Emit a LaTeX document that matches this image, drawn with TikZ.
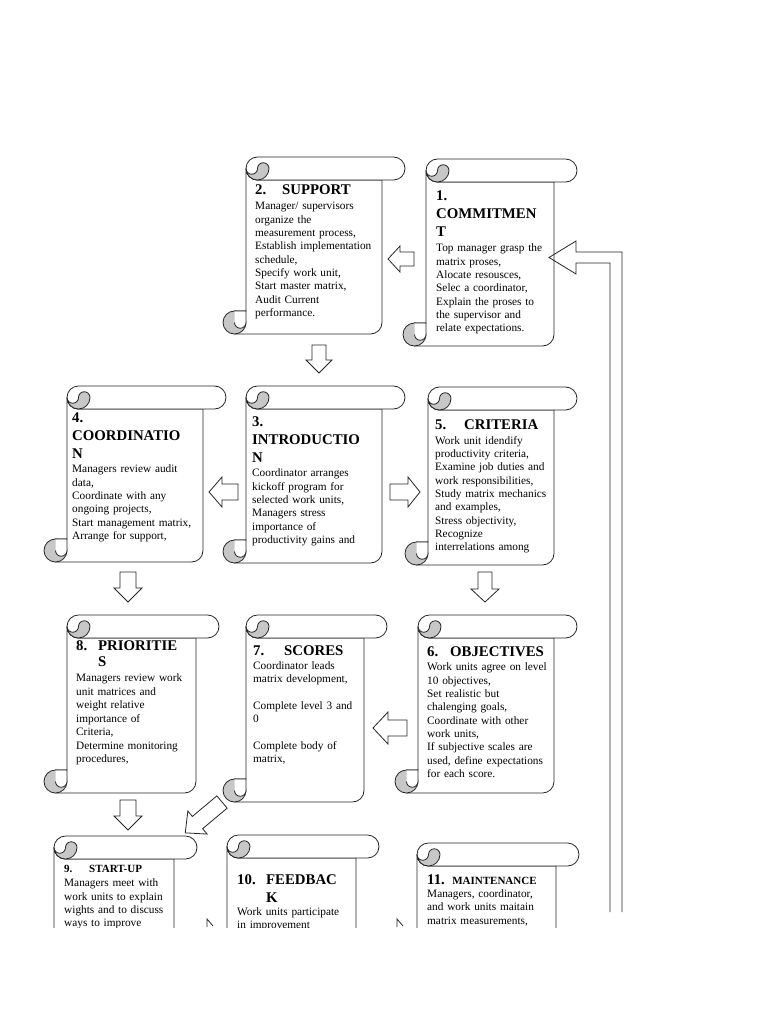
\documentclass[tikz,border=0pt]{standalone}
\usepackage{fontspec}
\setmainfont{Liberation Serif}
\def\sc{23}\def\sh{11.5}\def\sq{5.75}
\tikzset{
  ln/.style={draw=black!85, line width=0.8pt},
  curlfill/.style={ln, fill=black!22},
  pics/scroll/.style 2 args={code={
    % body
    \filldraw[ln, fill=white] (\sc,-\sh) -- (\sc,{-#2+\sc}) -- (\sh,{-#2+\sc}) -- (\sh,-#2)
      -- ({#1-\sc-\sh},-#2) arc[start angle=-90,end angle=0,radius=\sh]
      -- ({#1-\sc},-\sc) -- ({\sc+\sh},-\sc) arc[start angle=270,end angle=180,radius=\sh] -- cycle;
    % bottom curl
    \filldraw[curlfill] (\sh,{-#2+\sh}) circle[radius=\sh];
    \fill[white] (\sh,{-#2+\sc}) -- (\sc,{-#2+\sc}) -- (\sc,{-#2+\sh})
      arc[start angle=0,end angle=-180,radius=\sq] -- cycle;
    \draw[ln] (\sh,{-#2+\sc}) -- (\sc,{-#2+\sc}) -- (\sc,{-#2+\sh})
      arc[start angle=0,end angle=-180,radius=\sq];
    % top roll
    \filldraw[ln, fill=white] ({\sc+\sh},0) -- ({#1-\sh},0) arc[start angle=90,end angle=-90,radius=\sh]
      -- ({\sc+\sh},-\sc) arc[start angle=270,end angle=90,radius=\sh] -- cycle;
    % top curl
    \filldraw[curlfill] (\sc,-\sh) arc[start angle=180,end angle=360,radius=\sh]
      arc[start angle=0,end angle=180,radius=\sq] arc[start angle=0,end angle=-180,radius=\sq] -- cycle;
  }},
  body/.style={anchor=north west, inner sep=0pt, text width=175pt, align=left,
    font=\fontsize{11.3}{13.33}\selectfont},
  head/.style={anchor=north west, inner sep=0pt, text width=175pt, align=left,
    font=\fontsize{14.8}{18}\selectfont\bfseries},
  shead/.style={anchor=north west, inner sep=0pt, text width=175pt, align=left,
    font=\fontsize{11}{13}\selectfont\bfseries},
}
\newcommand\tb[5]{\node[#1] (#2) at (#3,{16-#4}) {\rule{0pt}{16pt}#5};}
\newcommand\blockarrow[7]{%
  \begin{scope}[shift={(#1,-#2)},rotate=#3]
    \filldraw[ln, fill=white] (0,#5) -- ({#4-#7},#5) -- ({#4-#7},#6) -- (#4,0)
      -- ({#4-#7},-#6) -- ({#4-#7},-#5) -- (0,-#5) -- cycle;
  \end{scope}}
\begin{document}
\begin{tikzpicture}[x=1pt,y=1pt]
\fill[white] (0,0) rectangle (768,-1024);
\useasboundingbox (0,0) rectangle (768,-1024);

% scrolls
\pic (s1) at (403,-159) {scroll={174}{187}};
\pic (s2) at (223,-157) {scroll={182}{177}};
\pic (s3) at (223,-386) {scroll={182}{177}};
\pic (s4) at (44,-386) {scroll={182}{176}};
\pic (s5) at (405,-387) {scroll={172}{178}};
\pic (s6) at (395,-615) {scroll={182}{178}};
\pic (s7) at (223,-615) {scroll={164}{187}};
\pic (s8) at (44,-615) {scroll={175}{178}};

% texts
\tb{head}{h1}{436}{200}{1.\\COMMITMEN\\T}
\tb{body}{b1}{436}{251.5}{Top manager grasp the\\matrix proses,\\Alocate resousces,\\Selec a coordinator,\\Explain the proses to\\the supervisor and\\relate expectations.}

\tb{head}{h2}{255}{194}{\makebox[27pt][l]{2.}SUPPORT}
\tb{body}{b2}{255}{209.5}{Manager/ supervisors\\organize the\\measurement process,\\Establish implementation\\schedule,\\Specify work unit,\\Start master matrix,\\Audit Current\\performance.}

\tb{head}{h3}{252}{426.5}{3.\\INTRODUCTIO\\N}
\tb{body}{b3}{252}{476.5}{Coordinator arranges\\kickoff program for\\selected work units,\\Managers stress\\importance of\\productivity gains and}

\tb{head}{h4}{72}{422.5}{4.\\COORDINATIO\\N}
\tb{body}{b4}{72}{472.5}{Managers review audit\\data,\\Coordinate with any\\ongoing projects,\\Start management matrix,\\Arrange for support,}

\tb{head}{h5}{435}{429.5}{\makebox[29pt][l]{5.}CRITERIA}
\tb{body}{b5}{435}{444}{Work unit idendify\\productivity criteria,\\Examine job duties and\\work responsibilities,\\Study matrix mechanics\\and examples,\\Stress objectivity,\\Recognize\\interrelations among}

\tb{head}{h6}{427}{656.5}{\makebox[23pt][l]{6.}OBJECTIVES}
\tb{body}{b6}{427}{670.5}{Work units agree on level\\10 objectives,\\Set realistic but\\chalenging goals,\\Coordinate with other\\work units,\\If subjective scales are\\used, define expectations\\for each score.}

\tb{head}{h7}{253}{655.5}{\makebox[31pt][l]{7.}SCORES}
\tb{body}{b7}{253}{669}{Coordinator leads\\matrix development,\\[13.33pt]Complete level 3 and\\0\\[13.33pt]Complete body of\\matrix,}

\tb{head}{h8}{76}{650.5}{\makebox[22pt][l]{8.}PRIORITIE\\[-2pt]\hspace*{22pt}S}
\tb{body}{b8}{76}{681.5}{Managers review work\\[0.2pt]unit matrices and\\[0.2pt]weight relative\\[0.2pt]importance of\\[0.2pt]Criteria,\\[0.2pt]Determine monitoring\\[0.2pt]procedures,}

% bottom row, cut off
\begin{scope}
\clip (0,0) rectangle (768,-927);
\pic (s9) at (31,-836) {scroll={166}{200}};
\pic (s10) at (204,-835) {scroll={175}{200}};
\pic (s11) at (394,-843) {scroll={185}{200}};
\tb{shead}{h9}{64}{872.5}{\makebox[25pt][l]{9.}START-UP}
\tb{body}{b9}{64}{886.5}{Managers meet with\\work units to explain\\wights and to discuss\\ways to improve}
\tb{head}{h10}{237}{884}{\makebox[29pt][l]{10.}FEEDBAC\\\hspace*{29pt}K}
\tb{body}{b10}{237}{915}{Work units participate\\in improvement}
\tb{head}{h11}{427}{884}{11. {\fontsize{11}{13}\selectfont MAINTENANCE}}
\tb{body}{b11}{427}{897.3}{Managers, coordinator,\\and work units maitain\\matrix measurements,}
\draw[ln] (207,-927) -- (207,-919) -- (213,-926);
\draw[ln] (397,-927) -- (397,-919) -- (403,-926);
\end{scope}

% block arrows
\blockarrow{414}{259}{180}{26}{7}{13}{12}
\blockarrow{319}{345}{-90}{28}{7}{13}{13}
\blockarrow{238}{492}{180}{29}{8}{15}{13}
\blockarrow{390}{492}{0}{30}{8}{15}{12}
\blockarrow{128}{572}{-90}{30}{8}{14}{14}
\blockarrow{485}{572}{-90}{30}{7}{14}{13}
\blockarrow{407}{728}{180}{34}{8}{16}{15}
\blockarrow{128}{800}{-90}{30}{8}{14}{14}
\blockarrow{222}{802}{220}{48}{8}{15}{16}

% feedback loop arrow into 1
\draw[ln] (610,-912) -- (610,-263) -- (576,-263) -- (576,-274) -- (549,-257.5)
  -- (576,-241) -- (576,-252) -- (622,-252) -- (622,-912);
\end{tikzpicture}
\end{document}
